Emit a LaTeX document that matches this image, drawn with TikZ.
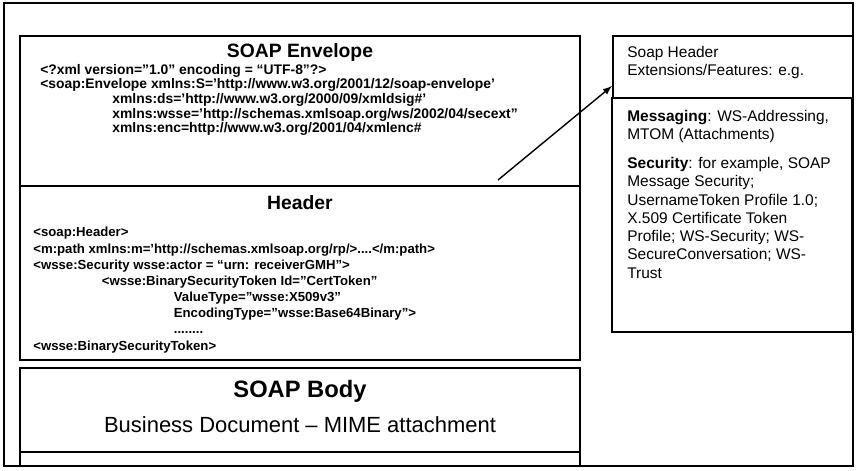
\documentclass[tikz,border=0pt]{standalone}
\usepackage{fontspec}
\setmainfont{Liberation Sans}
\usetikzlibrary{positioning}
\begin{document}
\begin{tikzpicture}[x=0.02cm,y=-0.02cm]
\tikzstyle{box}=[draw,line width=.3mm]
\tikzstyle{code}=[anchor=north west,inner sep=0pt,align=left,font=\bfseries\fontsize{7.9}{8.3}\selectfont]
\tikzstyle{title}=[inner sep=0pt,font=\bfseries\fontsize{11}{13}\selectfont]
\tikzstyle{ext}=[anchor=north west,inner sep=0pt,align=left,font=\fontsize{8.8}{10.4}\selectfont]
    \useasboundingbox (0,0) rectangle (858,470);
    \draw[box] (4,3) rectangle (853,466);
    \draw[box] (20,36) rectangle (580,186);
    \draw[box] (20,186) rectangle (580,360);
    \draw[box] (20,368) rectangle (580,452);
    \draw[box] (20,452) -- (20,466);
    \draw[box] (580,452) -- (580,466);
    \node[box,minimum width=4.8cm,minimum height=1.26cm,anchor=north west,inner sep=0pt] (feat) at (612,35) {};
    \draw[box] (612,98) rectangle (852,332);
    \coordinate (start) at (498,180);
    \coordinate (tip) at (612,86);
    \node[title] (env) at (300,53) {SOAP Envelope};
    \node[code] (envcode) at (40,64) {<?xml version="1.0" encoding = “UTF-8"?>\\
<soap:Envelope xmlns:S='http://www.w3.org/2001/12/soap-envelope'\\
\hspace{41pt}xmlns:ds='http://www.w3.org/2000/09/xmldsig\#'\\
\hspace{41pt}xmlns:wsse='http://schemas.xmlsoap.org/ws/2002/04/secext"\\
\hspace{41pt}xmlns:enc=http://www.w3.org/2001/04/xmlenc\#};
    \node[title] (hdr) at (300,203) {Header};
    \node[code,font=\bfseries\fontsize{7.5}{9.2}\selectfont] (hdrcode) at (33,227) {<soap:Header>\\
<m:path xmlns:m='http://schemas.xmlsoap.org/rp/>....</m:path>\\
<wsse:Security wsse:actor = “urn: receiverGMH">\\
\hspace{39pt}<wsse:BinarySecurityToken Id="CertToken"\\
\hspace{80pt}ValueType="wsse:X509v3"\\
\hspace{80pt}EncodingType="wsse:Base64Binary">\\
\hspace{80pt}........\\
<wsse:BinarySecurityToken>};
    \node[title,font=\bfseries\fontsize{13.5}{15}\selectfont] (body) at (300,391) {SOAP Body};
    \node[inner sep=0pt,font=\fontsize{12.5}{14}\selectfont] (doc) at (300,425) {Business Document – MIME attachment};
    \node[ext] (feattxt) at (627,46) {Soap Header\\Extensions/Features: e.g.};
    \node[ext] (msg) at (627,110) {\textbf{Messaging}: WS-Addressing,\\MTOM (Attachments)};
    \node[ext] (sec) at (627,157) {\textbf{Security}: for example, SOAP\\Message Security;\\UsernameToken Profile 1.0;\\X.509 Certificate Token\\Profile; WS-Security; WS-\\SecureConversation; WS-\\Trust};
    \draw[-latex,thick] (start) to (tip);
\end{tikzpicture}
\end{document}
